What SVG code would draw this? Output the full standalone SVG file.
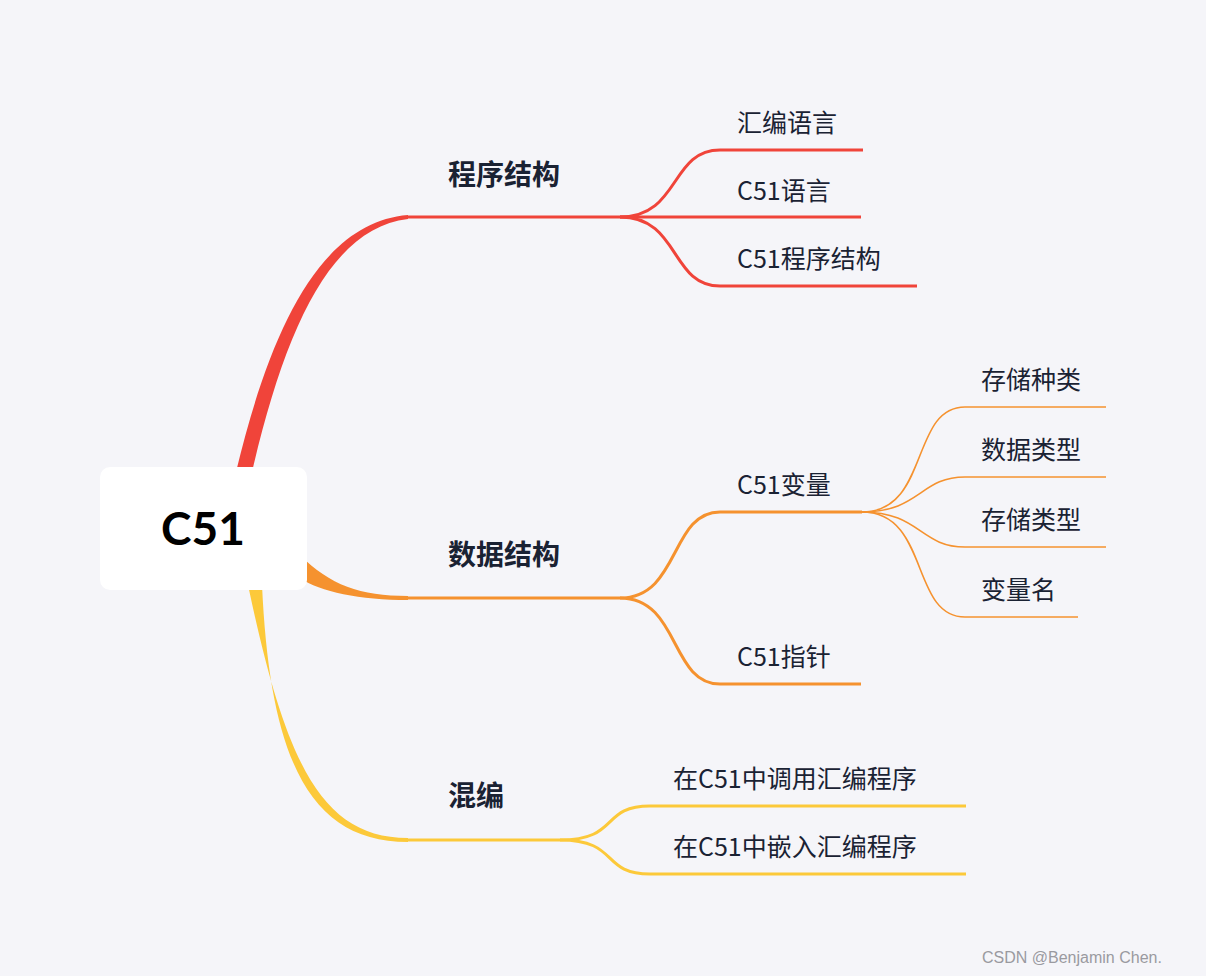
<svg xmlns="http://www.w3.org/2000/svg" width="1206" height="976" viewBox="0 0 1206 976">
<style>
.t{font-family:"Noto Sans CJK SC","Noto Sans",sans-serif;fill:#1a2233}
.m{font-size:28px;font-weight:bold}
.s{font-size:25px}
.r{stroke:#f0443a;fill:none;stroke-width:3}
.o{stroke:#f5922f;fill:none;stroke-width:3}
.o2{stroke:#f5922f;fill:none;stroke-width:1.6}
.y{stroke:#fcc93a;fill:none;stroke-width:3}
</style>
<rect width="1206" height="976" fill="#f5f5f9"/>
<g id="connectors">
<path d="M236,472 C270,330 320,222 408,215 L408,219 C330,228 285,330 252,472 Z" fill="#f0443a"/>
<path d="M300,555 C330,585 360,596 408,596 L408,600 C360,600 320,592 300,578 Z" fill="#f5922f"/>
<path d="M248,585 C285,760 320,838 408,838 L408,842 C310,842 270,760 262,585 Z" fill="#fcc93a"/>
<path class="r" d="M408,217 H620 C680,217 670,150 720,150 H863"/>
<path class="r" d="M620,217 H861"/>
<path class="r" d="M620,217 C680,217 670,286 720,286 H917"/>
<path class="o" d="M408,598 H620 C680,598 670,512 720,512 H862"/>
<path class="o" d="M620,598 C680,598 670,684 720,684 H861"/>
<path class="o2" d="M862,512 C930,512 910,407 965,407 H1106"/>
<path class="o2" d="M862,512 C920,512 920,477 965,477 H1106"/>
<path class="o2" d="M862,512 C920,512 920,547 965,547 H1106"/>
<path class="o2" d="M862,512 C930,512 910,617 965,617 H1078"/>
<path class="y" d="M408,840 H560 C620,840 600,806 650,806 H966"/>
<path class="y" d="M560,840 C620,840 600,874 650,874 H966"/>
</g>
<g id="root">
<rect x="100" y="467" width="207" height="123" rx="10" fill="#fff"/>
<text x="203" y="545" text-anchor="middle" font-family="Lato,'Noto Sans',sans-serif" font-size="46" font-weight="bold" fill="#000">C51</text>
</g>
<g id="n1"><text class="t m" x="448" y="185">程序结构</text></g>
<g id="n2"><text class="t m" x="448" y="565">数据结构</text></g>
<g id="n3"><text class="t m" x="448" y="806">混编</text></g>
<g id="n11"><text class="t s" x="737" y="132">汇编语言</text></g>
<g id="n12"><text class="t s" x="737" y="200">C51语言</text></g>
<g id="n13"><text class="t s" x="737" y="268">C51程序结构</text></g>
<g id="n21"><text class="t s" x="737" y="494">C51变量</text></g>
<g id="n22"><text class="t s" x="737" y="666">C51指针</text></g>
<g id="n211"><text class="t s" x="981" y="389">存储种类</text></g>
<g id="n212"><text class="t s" x="981" y="459">数据类型</text></g>
<g id="n213"><text class="t s" x="981" y="529">存储类型</text></g>
<g id="n214"><text class="t s" x="981" y="599">变量名</text></g>
<g id="n31"><text class="t s" x="673" y="788">在C51中调用汇编程序</text></g>
<g id="n32"><text class="t s" x="673" y="856">在C51中嵌入汇编程序</text></g>
<text x="982" y="963" font-family="'Liberation Sans',sans-serif" font-size="16" fill="#9a9aa0">CSDN @Benjamin Chen.</text>
</svg>
